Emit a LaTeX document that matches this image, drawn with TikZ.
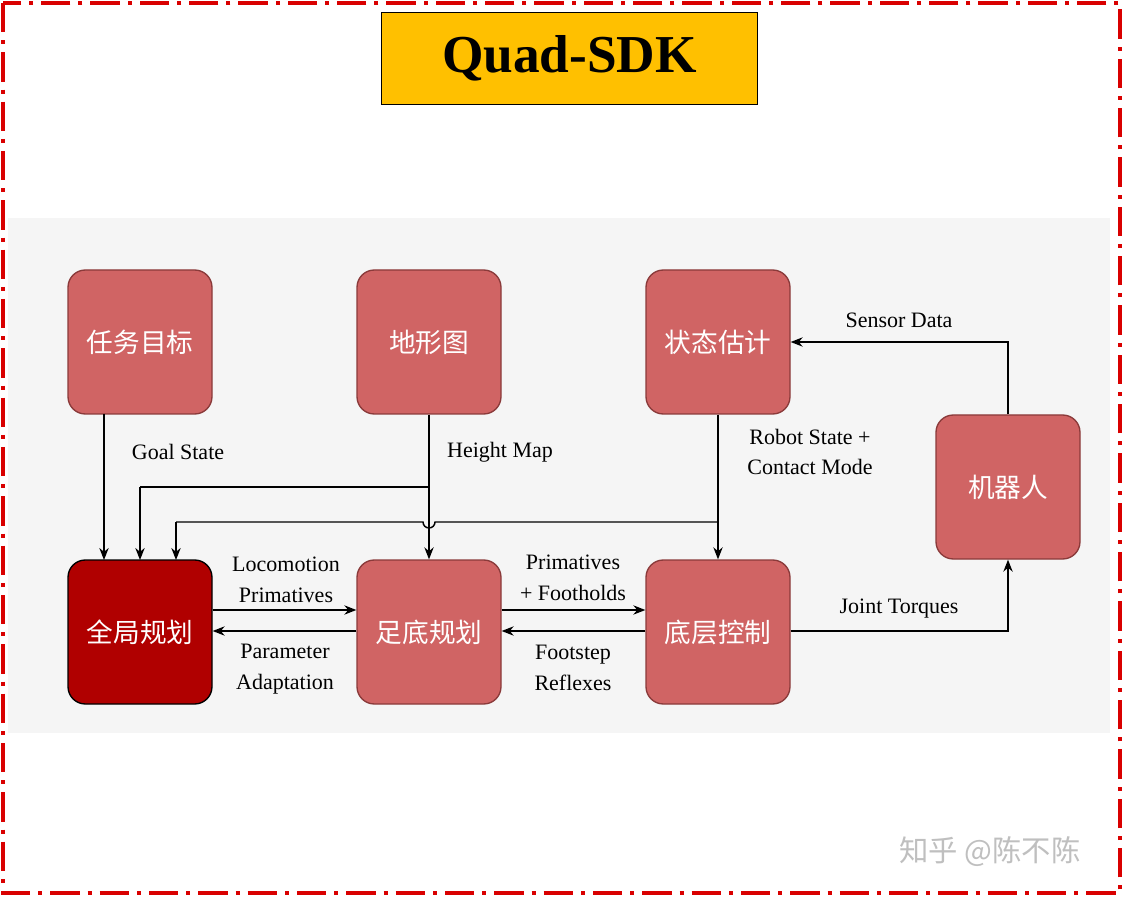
\documentclass[tikz,border=0pt]{standalone}
\usepackage{fontspec}
\setmainfont{Liberation Serif}
\newfontfamily\cjk{Noto Sans CJK SC}
\usetikzlibrary{arrows.meta}
\definecolor{boxf}{HTML}{D06464}
\definecolor{boxd}{HTML}{B00000}
\definecolor{boxb}{HTML}{8A3A3A}
\definecolor{ttl}{HTML}{FFC000}
\begin{document}
\begin{tikzpicture}[x=0.75pt,y=-0.75pt,
  blk/.style={draw=boxb,line width=1pt,fill=boxf,rounded corners=13pt,minimum width=108pt,minimum height=108pt,inner sep=0pt,text=white,font=\cjk\fontsize{20}{20}\selectfont},
  arr/.style={line width=1.1pt,-{Stealth[length=9pt,width=7pt]}},
  ln/.style={line width=1.1pt},
  lab/.style={font=\fontsize{16.5}{23}\selectfont,align=center,inner sep=0pt}]
\useasboundingbox (0,0) rectangle (1125,898);
\fill[white] (0,0) rectangle (1125,898);
\fill[gray!8] (8,218) rectangle (1110,733);
\draw[red!85!black,line width=2.6pt,dash pattern=on 22pt off 6pt on 3pt off 6pt] (3,3) rectangle (1120,893);
\node[draw=black,line width=0.6pt,fill=ttl,minimum width=282pt,minimum height=69pt,inner sep=0pt,font=\fontsize{40}{40}\selectfont\bfseries] (title) at (569.5,58) {Quad-SDK};
\node[blk] (task) at (140,342) {任务目标};
\node[blk] (map) at (429,342) {地形图};
\node[blk] (est) at (718,342) {状态估计};
\node[blk] (rob) at (1008,487) {机器人};
\node[blk,fill=boxd,draw=black] (glob) at (140,632) {全局规划};
\node[blk] (foot) at (429,632) {足底规划};
\node[blk] (low) at (718,632) {底层控制};
\coordinate (g1) at (104,560);
\coordinate (g2) at (140,560);
\coordinate (g3) at (176,560);
\draw[arr] (104,414) -- (g1);
\draw[arr] (map.south) -- (foot.north);
\draw[ln] (429,487) -- (140,487);
\draw[arr] (140,487) -- (g2);
\draw[arr] (est.south) -- (low.north);
\draw[ln] (718,522) -- (435,522) arc (0:180:6) -- (176,522);
\draw[arr] (176,522) -- (g3);
\draw[arr] (glob.east |- 0,610) -- (foot.west |- 0,610);
\draw[arr] (foot.west |- 0,631) -- (glob.east |- 0,631);
\draw[arr] (foot.east |- 0,610) -- (low.west |- 0,610);
\draw[arr] (low.west |- 0,631) -- (foot.east |- 0,631);
\draw[arr] (low.east |- 0,631) -- (1008,631) -- (rob.south);
\draw[arr] (rob.north) -- (1008,342) -- (est.east);
\node[lab] at (178,452) {Goal State};
\node[lab] at (500,452) {Height Map};
\node[lab] at (810,452) {Robot State +\\Contact Mode};
\node[lab] at (286,580) {Locomotion\\Primatives};
\node[lab] at (285,669) {Parameter\\Adaptation};
\node[lab] at (573,578) {Primatives\\+ Footholds};
\node[lab] at (573,668) {Footstep\\Reflexes};
\node[lab] at (899,609) {Joint Torques};
\node[lab] at (899,320) {Sensor Data};
\node[font=\cjk\fontsize{22}{22}\selectfont,text=gray!50] at (990,852) {知乎 @陈不陈};
\end{tikzpicture}
\end{document}
